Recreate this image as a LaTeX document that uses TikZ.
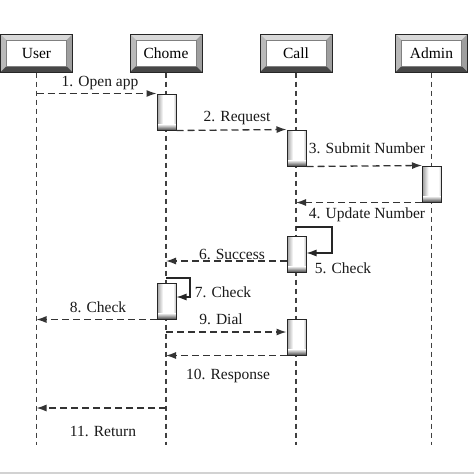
\documentclass[tikz,border=0pt]{standalone}
\usepackage{fontspec}
\setmainfont{Liberation Serif}
\usetikzlibrary{arrows.meta}
\begin{document}
\begin{tikzpicture}[x=1pt,y=-1pt,
  every node/.style={font=\fontsize{15.5}{18}\selectfont},
  head/.style={draw=black!85, line width=1pt, minimum width=72pt, minimum height=38pt, inner sep=0pt,
    path picture={
      \def\pb{path picture bounding box}
      \fill[gray!30] (\pb.north west) -- (\pb.north east) -- ([xshift=-6pt,yshift=-6pt]\pb.north east) -- ([xshift=6pt,yshift=-6pt]\pb.north west) -- cycle;
      \fill[gray!55] (\pb.north west) -- ([xshift=6pt,yshift=-6pt]\pb.north west) -- ([xshift=6pt,yshift=6pt]\pb.south west) -- (\pb.south west) -- cycle;
      \fill[gray!75] (\pb.north east) -- (\pb.south east) -- ([xshift=-6pt,yshift=6pt]\pb.south east) -- ([xshift=-6pt,yshift=-6pt]\pb.north east) -- cycle;
      \fill[black!72] (\pb.south west) -- (\pb.south east) -- ([xshift=-6pt,yshift=6pt]\pb.south east) -- ([xshift=6pt,yshift=6pt]\pb.south west) -- cycle;
      \draw[black!50, fill=white, line width=0.4pt] ([xshift=6pt,yshift=-6pt]\pb.north west) rectangle ([xshift=-6pt,yshift=6pt]\pb.south east);
    }},
  act/.style={draw=black!85, line width=1pt, minimum width=19pt, minimum height=36pt, inner sep=0pt,
    path picture={
      \def\pb{path picture bounding box}
      \fill[white] (\pb.north west) rectangle (\pb.south east);
      \shade[left color=gray!75, right color=white] (\pb.north west) rectangle ([xshift=6pt]\pb.south west);
      \shade[right color=gray!50, left color=white] ([xshift=-3pt]\pb.north east) rectangle (\pb.south east);
      \shade[top color=white, bottom color=black!70] ([yshift=6pt]\pb.south west) rectangle (\pb.south east);
    }},
  life/.style={draw=black!75, line width=1.3pt, dash pattern=on 5pt off 4pt},
  msg/.style={draw=black!80, line width=1.3pt, dash pattern=on 7pt off 4pt, -{Latex[length=10pt,width=7pt]}},
  selfmsg/.style={draw=black!85, line width=1.1pt, -{Latex[length=10pt,width=7pt]}},
  lbl/.style={inner sep=1pt, text=black!90}]
\useasboundingbox (0,0) rectangle (474,474);
\fill[gray!35] (0,471.5) rectangle (474,474);

% heads
\node[head] (user)  at (36.5,53) {User};
\node[head] (chome) at (166,53) {Chome};
\node[head] (call)  at (296,53) {Call};
\node[head] (admin) at (431.5,53) {Admin};

% lifeline ends
\coordinate (uE) at (36.5,445);
\coordinate (cE) at (166,445);
\coordinate (kE) at (296,445);
\coordinate (aE) at (431.5,445);
\draw[life] (user.south) -- (uE);
\draw[life] (chome.south) -- (cE);
\draw[life] (call.south) -- (kE);
\draw[life] (admin.south) -- (aE);

% activations
\node[act] (a1) at (166.5,112) {};
\node[act] (a2) at (296.5,148) {};
\node[act] (a3) at (432,184) {};
\node[act] (a4) at (296.5,254) {};
\node[act] (a5) at (166.5,301) {};
\node[act] (a6) at (296.5,337) {};

% helper levels
\coordinate (y5) at (0,227);
\coordinate (y6) at (0,261);
\coordinate (y7) at (0,278);
\coordinate (y9) at (0,332);
\coordinate (y11) at (0,408);

% messages
\draw[msg] (user.south |- a1.north) -- (a1.north west);
\draw[msg] (a1.south east) -- (a2.north west);
\draw[msg] (a2.south east) -- (a3.north west);
\draw[msg] (a3.south west) -- (call.south |- a3.south);
\draw[selfmsg] (call.south |- y5) -- ++(36,0) |- ([yshift=1pt]a4.east);
\draw[msg] (a4.west |- y6) -- (chome.south |- y6);
\draw[selfmsg] (chome.south |- y7) -- ++(24,0) |- ([yshift=4pt]a5.east);
\draw[msg] (a5.south west) -- (user.south |- a5.south);
\draw[msg] (chome.south |- y9) -- (a6.west |- y9);
\draw[msg] (a6.south west) -- (chome.south |- a6.south);
\draw[msg] (chome.south |- y11) -- (user.south |- y11);

% labels
\node[lbl] (l1)  at (100,83)  {1. Open app};
\node[lbl] (l2)  at (237,118) {2. Request};
\node[lbl] (l3)  at (367,148) {3. Submit Number};
\node[lbl] (l4)  at (367,215) {4. Update Number};
\node[lbl] (l5)  at (343,268) {5. Check};
\node[lbl] (l6)  at (232,254) {6. Success};
\node[lbl] (l7)  at (223,292) {7. Check};
\node[lbl] (l8)  at (98,307)  {8. Check};
\node[lbl] (l9)  at (221,319) {9. Dial};
\node[lbl] (l10) at (228,376) {10. Response};
\node[lbl] (l11) at (103,431) {11. Return};
\end{tikzpicture}
\end{document}
